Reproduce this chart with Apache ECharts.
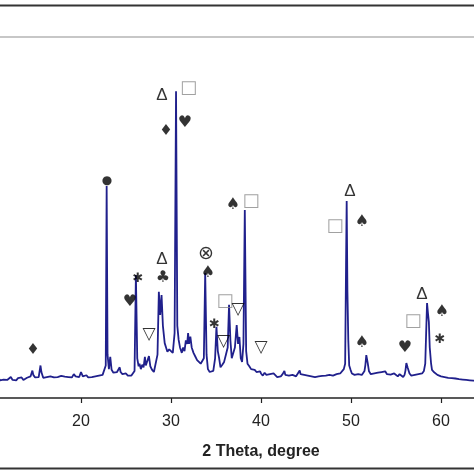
<!DOCTYPE html>
<html>
<head>
<meta charset="utf-8">
<script src="https://cdn.jsdelivr.net/npm/echarts@6/dist/echarts.min.js"></script>
<style>html,body{margin:0;padding:0;background:#fff;overflow:hidden;width:474px;height:474px;}#chart{position:absolute;left:-9px;top:0;width:540px;height:474px;}</style>
</head>
<body>
<div id="chart"></div>
<script>
// 2 Theta (degree) and intensity (arbitrary units)
const twoTheta = [
10.0,10.2,10.4,10.6,10.8,11.0,11.2,11.4,11.6,11.8,12.0,12.2,12.4,12.6,12.8,13.0,13.2,13.4,13.6,13.8,
14.0,14.2,14.4,14.6,14.7,14.9,15.1,15.3,15.5,15.6,15.8,16.0,16.2,16.4,16.6,16.8,17.0,17.2,17.4,17.6,
17.8,18.0,18.2,18.4,18.6,18.8,19.0,19.2,19.4,19.6,19.8,20.0,20.2,20.4,20.6,20.8,21.0,21.2,21.4,21.6,
21.8,22.0,22.2,22.4,22.6,22.75,22.85,22.95,23.1,23.25,23.4,23.6,23.8,24.0,24.2,24.3,24.4,24.6,24.8,25.0,
25.2,25.4,25.6,25.8,25.95,26.1,26.25,26.4,26.5,26.65,26.8,26.95,27.1,27.2,27.4,27.55,27.7,27.9,28.1,28.3,
28.5,28.65,28.8,28.95,29.1,29.3,29.45,29.6,29.8,30.0,30.2,30.4,30.56,30.7,30.85,31.0,31.2,31.35,31.5,31.65,
31.8,31.9,32.0,32.15,32.3,32.5,32.7,32.9,33.1,33.3,33.5,33.65,33.8,33.95,34.1,34.3,34.5,34.7,34.9,35.05,
35.2,35.35,35.5,35.7,35.9,36.1,36.3,36.45,36.6,36.75,36.9,37.1,37.3,37.45,37.6,37.75,37.9,38.05,38.2,38.35,
38.5,38.7,38.9,39.1,39.3,39.5,39.7,39.9,40.0,40.2,40.4,40.6,40.8,41.0,41.2,41.4,41.6,41.8,42.0,42.2,
42.4,42.6,42.7,42.9,43.1,43.3,43.5,43.7,43.9,44.1,44.3,44.4,44.6,44.8,45.0,45.2,45.4,45.6,45.8,46.0,
46.2,46.4,46.6,46.8,47.0,47.2,47.4,47.6,47.8,48.0,48.2,48.4,48.6,48.8,49.0,49.2,49.35,49.45,49.52,49.6,
49.7,49.8,49.95,50.1,50.2,50.4,50.6,50.8,51.0,51.2,51.4,51.5,51.6,51.7,51.85,52.0,52.2,52.4,52.6,52.8,
53.0,53.2,53.4,53.6,53.8,54.0,54.2,54.4,54.6,54.8,55.0,55.2,55.4,55.6,55.8,55.95,56.05,56.15,56.3,56.5,
56.7,56.9,57.1,57.3,57.5,57.7,57.9,58.1,58.25,58.35,58.45,58.55,58.65,58.75,58.9,59.0,59.2,59.4,59.6,59.8,
60.0,60.2,60.4,60.6,60.8,61.0,61.2,61.4,61.6,61.8,62.0,62.2,62.4,62.6,62.8,63.0,63.2,63.4,63.6,63.8,
64.0,65.0,66.0,67.0,68.0,69.0,70.0
];
const intensity = [
50,55,48,53,57,49,54,51,56,50,53,58,50,54,49,55,52,57,50,54,
56,52,60,76,64,57,55,58,90,72,56,53,58,54,60,55,57,53,58,55,
61,56,59,54,58,62,57,66,60,63,58,72,60,58,63,57,61,58,63,60,
58,62,60,64,66,90,587,120,80,114,78,70,66,72,70,85,72,66,64,68,
62,58,62,60,75,341,110,88,95,80,92,85,114,90,95,116,88,78,72,75,
120,294,230,285,200,152,140,128,135,130,125,180,850,200,161,140,125,140,130,160,
150,180,150,170,140,125,115,105,100,95,92,110,346,120,80,72,68,75,110,197,
130,110,85,92,100,120,140,258,160,110,105,140,202,150,169,110,100,150,521,130,
95,88,80,75,78,72,70,74,68,62,70,64,60,66,62,68,64,58,63,60,
66,75,64,60,62,58,64,66,60,63,76,66,70,64,68,62,66,60,64,58,
62,60,65,61,57,62,60,64,59,62,60,66,62,68,72,80,95,368,546,300,
160,90,78,68,72,64,60,66,62,64,68,75,92,119,98,74,66,62,68,64,
70,66,72,68,74,66,70,65,62,68,64,60,66,62,58,64,76,97,84,68,
62,58,64,60,66,62,68,75,95,180,263,235,211,140,95,78,72,68,64,66,
60,63,58,61,56,60,55,58,54,57,52,56,51,54,50,53,49,52,48,51,
47,50,48,49,47,48,47
];
// phase markers: position (2 Theta, intensity level) and glyph
const markTheta = [14.67,22.89,29.0,31.94,29.44,31.56,36.89,38.89,49.89,48.22,51.22,33.89,34.11,29.0,29.11,26.33,25.44,27.56,36.0,37.44,34.83,35.83,40.0,51.22,56.0,57.89,56.89,60.11,59.89];
const markLevel = [133,601,839,857,740,762,535,546,573,475,488,399,346,385,332,332,266,175,269,244,204,155,141,152,140,288,213,238,161];
const markGlyph = ['♦','●','Δ','□','♦','♥','♠','□','Δ','□','♠','⊗','♠','Δ','♣','✱','♥','▽','□','▽','✱','▽','▽','♠','♥','Δ','□','♠','✱'];
const xTicks = [10,20,30,40,50,60,70];

const glyphStyle = {
  '♦': {fontSize: 15, color: '#000'},
  '●': {fontSize: 12, color: '#000'},
  'Δ': {fontSize: 17, color: '#000', fontFamily: 'Liberation Sans'},
  '□': {fontSize: 18, color: '#8a8a8a'},
  '♥': {fontSize: 16, color: '#000'},
  '♠': {fontSize: 16, color: '#000'},
  '♣': {fontSize: 16, color: '#000'},
  '⊗': {fontSize: 19, color: '#000'},
  '✱': {fontSize: 13, color: '#000'},
  '▽': {fontSize: 17, color: '#000'}
};

const lineData = twoTheta.map((t, i) => [t, intensity[i]]);
const markData = markTheta.map((t, i) => ({
  value: [t, markLevel[i]],
  label: Object.assign({show: true, position: 'inside', formatter: markGlyph[i], fontFamily: 'DejaVu Sans'}, glyphStyle[markGlyph[i]])
}));

const chart = echarts.init(document.getElementById('chart'), null, {renderer: 'canvas'});
chart.setOption({
  animation: false,
  backgroundColor: '#fff',
  grid: {left: 0, right: 0, top: 37, bottom: 76, containLabel: false, outerBoundsMode: 'none'},
  xAxis: [{
    type: 'value', min: xTicks[0], max: xTicks[xTicks.length - 1], interval: 10,
    position: 'bottom',
    axisLine: {lineStyle: {color: '#222', width: 1.5}},
    axisTick: {show: true, inside: false, length: 5, lineStyle: {color: '#222', width: 1.2}},
    axisLabel: {fontSize: 16, color: '#222', margin: 16, fontFamily: 'Liberation Sans'},
    splitLine: {show: false},
    name: '2 Theta, degree', nameLocation: 'middle', nameGap: 46,
    nameTextStyle: {fontSize: 16, fontWeight: 'bold', color: '#222', fontFamily: 'Liberation Sans'}
  }, {
    type: 'value', min: xTicks[0], max: xTicks[xTicks.length - 1], position: 'top',
    axisLine: {show: true, lineStyle: {color: '#b4b4b4', width: 1.5}},
    axisTick: {show: false}, axisLabel: {show: false}, splitLine: {show: false}
  }],
  yAxis: {type: 'value', min: 0, max: 1000, show: false},
  graphic: [
    {type: 'line', shape: {x1: 0, y1: 5.5, x2: 540, y2: 5.5}, style: {stroke: '#333', lineWidth: 2}},
    {type: 'line', shape: {x1: 0, y1: 468.5, x2: 540, y2: 468.5}, style: {stroke: '#333', lineWidth: 2}}
  ],
  series: [{
    type: 'line', data: lineData, showSymbol: false, symbol: 'none',
    lineStyle: {color: '#20208c', width: 1.8}, z: 2
  }, {
    type: 'scatter', data: markData, symbolSize: 0, z: 3, silent: true
  }]
});
</script>
</body>
</html>
